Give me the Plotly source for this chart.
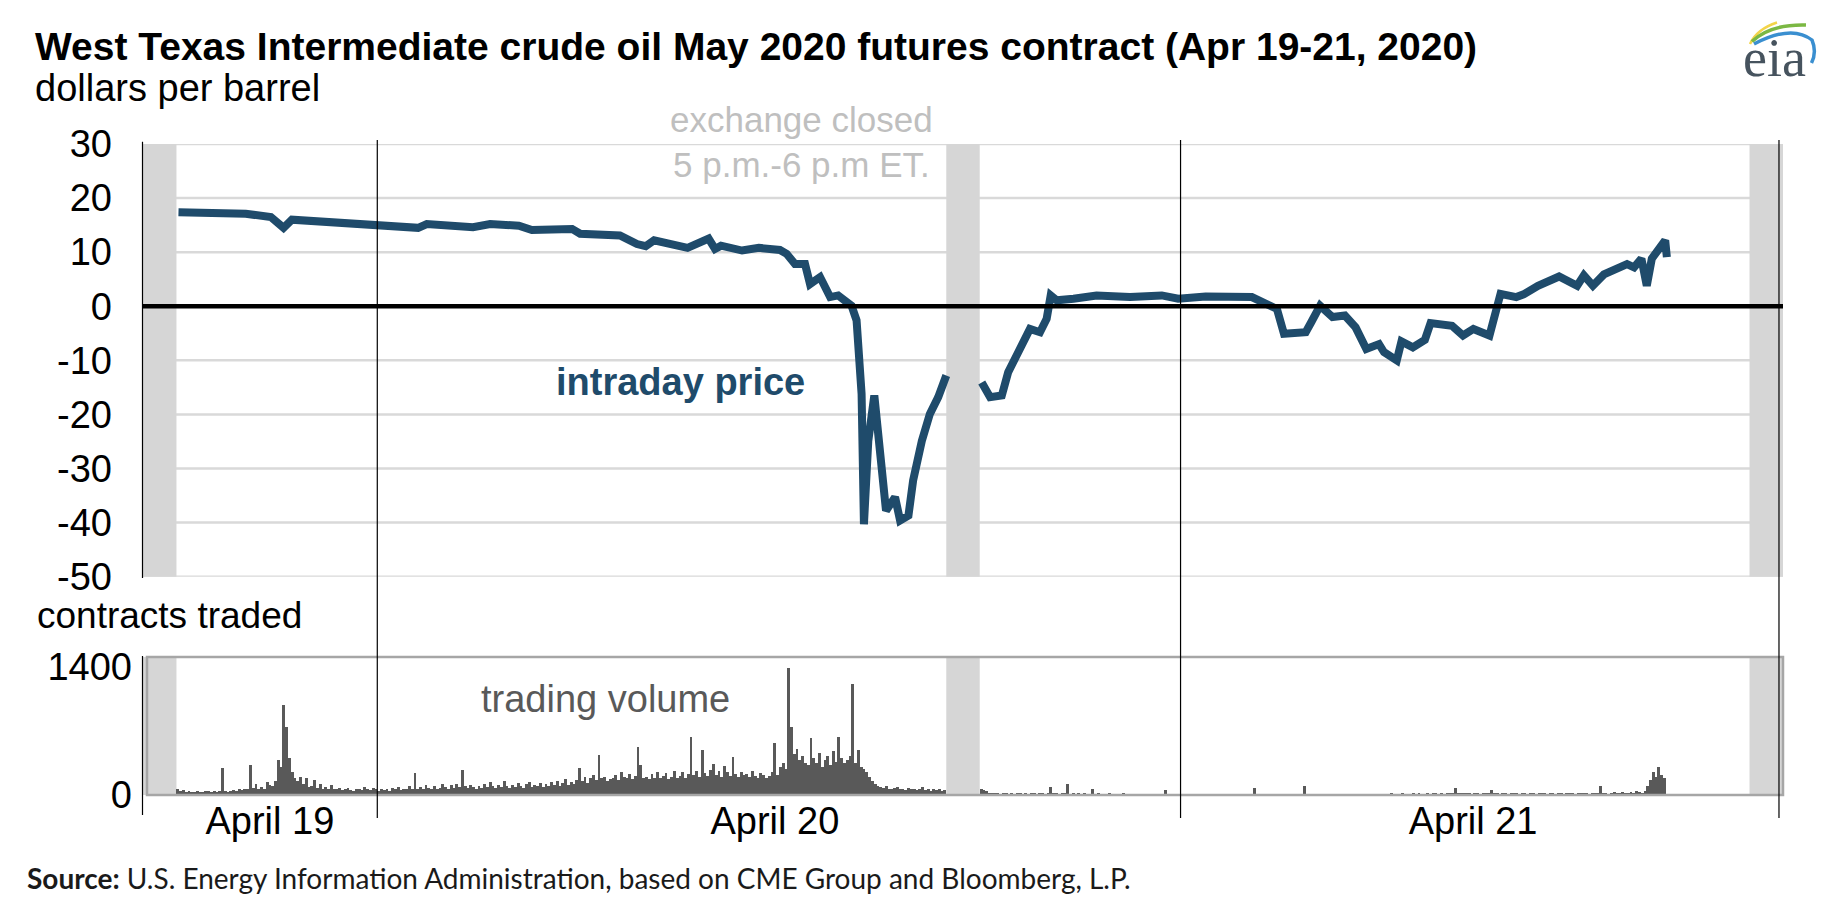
import plotly.graph_objects as go

# ---------------- data ----------------
# time axis: hours since 2020-04-19 00:00 ET
price_hours_s1 = [18.06, 19.06, 20.07, 20.82, 21.20, 21.45, 22.84, 23.93, 24.85, 25.22, 25.48, 26.86,
                  27.37, 28.23, 28.62, 29.82, 30.06, 31.25, 31.76, 32.02, 32.27, 33.27, 33.90, 34.09,
                  34.27, 34.90, 35.40, 36.03, 36.23, 36.48, 36.78, 36.93, 37.23, 37.53, 37.77, 38.17,
                  38.32, 38.37, 38.47, 38.54, 38.67, 38.85, 39.02, 39.20, 39.47, 39.62, 39.87, 40.01,
                  40.27, 40.51, 40.76, 41.0]
price_s1 = [17.4, 17.1, 17.1, 16.5, 14.5, 16.0, 15.4, 15.2, 14.9, 14.5, 15.2, 14.6,
            15.2, 14.9, 14.1, 14.3, 13.4, 13.1, 11.5, 11.1, 12.2, 10.8, 12.5, 10.6,
            11.2, 10.3, 10.8, 10.4, 9.7, 7.8, 7.8, 4.1, 5.4, 1.7, 2.0, 0.1,
            -2.6, -7.0, -16.2, -40.3, -24.9, -16.5, -27.3, -37.8, -35.3, -39.6, -38.7, -32.2,
            -24.9, -19.9, -16.8, -12.8]

price_hours_s2 = [42.06, 42.31, 42.66, 42.85, 43.15, 43.50, 43.80, 44.00, 44.12, 44.30, 44.80, 45.49,
                  46.49, 47.44, 47.93, 48.75, 50.13, 50.51, 50.88, 51.09, 51.74, 51.90, 52.17, 52.54,
                  52.91, 53.23, 53.55, 53.93, 54.08, 54.46, 54.60, 54.94, 55.30, 55.47, 56.11, 56.44,
                  56.75, 57.23, 57.39, 57.56, 58.03, 58.25, 58.68, 59.31, 59.85, 60.05, 60.32, 60.65,
                  61.34, 61.55, 61.77, 61.93, 62.08, 62.23, 62.48, 62.53]
price_s2 = [-14.1, -16.8, -16.5, -12.2, -8.5, -4.2, -4.8, -2.3, 2.0, 1.1, 1.4, 2.0,
            1.7, 2.0, 1.4, 1.8, 1.7, 0.7, -0.5, -5.1, -4.8, -3.0, 0.1, -2.0,
            -1.7, -3.9, -7.9, -7.0, -8.5, -10.0, -6.5, -7.6, -6.2, -3.1, -3.6, -5.4,
            -4.2, -5.4, -2.0, 2.3, 1.7, 2.2, 3.8, 5.5, 3.8, 5.7, 3.8, 5.9,
            7.8, 7.2, 8.8, 3.8, 8.8, 10.0, 12.2, 9.1]

# trading volume, 5-minute bins (contracts traded)
vol_start_s1 = 18.0   # 6 p.m. Apr 19
vol_s1 = [
    60, 45, 50, 35, 40, 30, 35, 40, 30, 35, 45, 40,
    35, 40, 30, 45, 290, 40, 35, 45, 50, 40, 60, 55,
    70, 60, 326, 80, 120, 60, 90, 70, 140, 110, 100, 150,
    380, 300, 978, 740, 400, 250, 180, 150, 200, 120, 180, 90,
    100, 160, 80, 120, 70, 90, 60, 110, 70, 60, 80, 50,
    60, 80, 50, 40, 70, 60, 50, 90, 60, 50, 80, 60,
    40, 60, 50, 70, 45, 80, 60, 90, 50, 70, 60, 100,
    60, 236, 70, 90, 60, 110, 80, 70, 100, 60, 80, 120,
    90, 70, 110, 80, 120, 90, 272, 100, 80, 110, 90, 70,
    100, 80, 120, 90, 140, 100, 80, 110, 90, 150, 100, 80,
    110, 90, 130, 100, 80, 120, 140, 90, 110, 100, 130, 90,
    120, 100, 140, 110, 150, 100, 130, 170, 110, 140, 120, 160,
    290, 150, 200, 130, 180, 220, 160, 435, 180, 200, 150, 170,
    180, 220, 160, 250, 200, 180, 230, 170, 210, 525, 326, 190,
    200, 170, 230, 190, 250, 180, 210, 240, 170, 200, 260, 190,
    210, 250, 190, 230, 630, 220, 260, 200, 490, 240, 210, 270,
    340, 220, 260, 200, 320, 250, 210, 417, 230, 200, 250, 220,
    230, 200, 260, 210, 190, 240, 220, 180, 210, 250, 560, 220,
    300, 350, 280, 1380, 740, 450, 500, 380, 420, 350, 330, 617,
    400, 350, 460, 300, 380, 420, 330, 480, 360, 630, 400, 350,
    380, 420, 1206, 350, 490, 300, 280, 250, 200, 150, 120, 100,
    90, 80, 100, 70, 60, 80, 90, 70, 60, 50, 80, 60,
    70, 50, 60, 90, 50, 60, 40, 70, 50, 60, 45, 55,
]
vol_start_s2 = 42.0   # 6 p.m. Apr 20
vol_s2 = [
    65, 50, 40, 25, 20, 15, 20, 10, 15, 20, 10, 15,
    10, 15, 20, 10, 15, 10, 20, 15, 10, 15, 20, 10,
    15, 90, 20, 15, 10, 20, 15, 120, 10, 15, 10, 20,
    10, 15, 10, 10, 65, 10, 15, 10, 5, 10, 15, 10,
    10, 5, 10, 15, 10, 5, 10, 10, 5, 10, 5, 10,
    5, 10, 5, 10, 5, 10, 50, 10, 5, 0, 5, 10,
    5, 0, 10, 5, 0, 5, 10, 0, 5, 10, 0, 5,
    5, 10, 0, 5, 0, 10, 5, 0, 10, 5, 0, 5,
    5, 0, 75, 5, 0, 10, 5, 0, 5, 10, 5, 0,
    5, 10, 0, 5, 10, 0, 5, 10, 98, 10, 5, 0,
    5, 10, 5, 0, 10, 5, 10, 5, 0, 5, 10, 5,
    10, 5, 0, 5, 10, 5, 10, 5, 10, 0, 5, 10,
    10, 5, 10, 15, 10, 5, 10, 15, 10, 5, 10, 15,
    10, 15, 10, 5, 15, 10, 15, 20, 10, 15, 10, 20,
    15, 20, 75, 15, 20, 15, 20, 15, 10, 20, 15, 10,
    15, 20, 15, 50, 15, 20, 10, 15, 20, 10, 15, 20,
    15, 10, 20, 15, 10, 20, 15, 10, 15, 20, 15, 10,
    15, 20, 10, 15, 20, 10, 15, 20, 15, 10, 20, 15,
    15, 20, 10, 15, 20, 15, 95, 20, 15, 10, 20, 30,
    20, 15, 30, 20, 25, 30, 20, 40, 30, 25, 40, 100,
    160, 250, 200, 300, 220, 180,
]
vol_step = 1 / 12  # 5 minutes in hours

closed_windows = [(17, 18), (41, 42), (65, 66)]   # exchange closed 5-6 p.m. ET
day_dividers = [24, 48, 65.88]
day_label_pos = [20.79, 35.88, 56.74]
day_labels = ["April 19", "April 20", "April 21"]
price_ticks = [-50, -40, -30, -20, -10, 0, 10, 20, 30]
price_tick_text = ["-50", "-40", "-30", "-20", "-10", "0", "10", "20", "30"]
volume_ticks = [0, 1400]

# ---------------- layout helpers (pixel -> paper) ----------------
W, H = 1832, 904
L, R, T, B = 143, 1783, 144, 795


def xp(px):
    return (px - L) / (R - L)


def yp(py):
    return (B - py) / (B - T)


FONT = "Liberation Sans, Arial, sans-serif"
LINE_COLOR = "#1f4b6b"
BAND = "#d6d6d6"
GRID = "#d9d9d9"

fig = go.Figure()

price_x = price_hours_s1 + [None] + price_hours_s2
price_y = price_s1 + [None] + price_s2
fig.add_trace(go.Scatter(x=price_x, y=price_y, mode="lines", connectgaps=False,
                         line=dict(color=LINE_COLOR, width=8), xaxis="x", yaxis="y",
                         hoverinfo="skip"))

vol_x = [vol_start_s1 + (i + 0.5) * vol_step for i in range(len(vol_s1))] + \
        [vol_start_s2 + (i + 0.5) * vol_step for i in range(len(vol_s2))]
vol_y = vol_s1 + vol_s2
fig.add_trace(go.Bar(x=vol_x, y=vol_y, width=vol_step, marker=dict(color="#595959", line=dict(width=0)),
                     xaxis="x2", yaxis="y2", hoverinfo="skip"))

up_bottom = yp(576.7)
low_top = yp(657)

fig.update_layout(
    width=W, height=H,
    margin=dict(l=L, r=W - R, t=T, b=H - B, pad=0),
    paper_bgcolor="white", plot_bgcolor="white",
    showlegend=False, bargap=0,
    font=dict(family=FONT, color="black"),
    xaxis=dict(domain=[0, 1], range=[17, 66], anchor="y", showgrid=False, zeroline=False,
               showticklabels=False, ticks="", showline=False),
    yaxis=dict(domain=[up_bottom, 1], range=[-50, 30], tickvals=price_ticks, ticktext=price_tick_text,
               showgrid=False, zeroline=False, ticks="", showline=False,
               tickfont=dict(size=38, color="black", family=FONT), ticklabelstandoff=30),
    xaxis2=dict(domain=[0, 1], range=[17, 66], anchor="y2", showgrid=False, zeroline=False,
                tickvals=day_label_pos, ticktext=day_labels, ticks="", showline=False,
                tickfont=dict(size=38, color="black", family=FONT), ticklabelstandoff=0),
    yaxis2=dict(domain=[0, low_top], range=[0, 1500], tickvals=volume_ticks, showgrid=False,
                zeroline=False, ticks="", showline=False,
                tickfont=dict(size=38, color="black", family=FONT), ticklabelstandoff=10),
)

shapes = []
# horizontal gridlines (drawn first, so the closed-exchange bands cover them)
for v in price_ticks:
    if v != 0:
        shapes.append(dict(type="line", xref="x", yref="y", x0=17, x1=66, y0=v, y1=v,
                           line=dict(color=GRID, width=2.5), layer="below"))
for a, b in closed_windows:
    shapes.append(dict(type="rect", xref="x", yref="y", x0=a, x1=b, y0=-50.3, y1=30.3,
                       fillcolor=BAND, line=dict(width=0), layer="below"))
    shapes.append(dict(type="rect", xref="x2", yref="y2", x0=a, x1=b, y0=0, y1=1500,
                       fillcolor=BAND, line=dict(width=0), layer="below"))
# zero line
shapes.append(dict(type="line", xref="x", yref="y", x0=17, x1=66.05, y0=0, y1=0,
                   line=dict(color="black", width=4.5), layer="above"))
# lower frame
shapes.append(dict(type="rect", xref="paper", yref="paper", x0=xp(147), x1=xp(1783),
                   y0=yp(795), y1=yp(657), line=dict(color="#a6a6a6", width=2.5), layer="above"))
# left axis lines
shapes.append(dict(type="line", xref="paper", yref="paper", x0=xp(142.5), x1=xp(142.5),
                   y0=yp(578), y1=yp(141.7), line=dict(color="black", width=1.2), layer="above"))
shapes.append(dict(type="line", xref="paper", yref="paper", x0=xp(142.5), x1=xp(142.5),
                   y0=yp(815), y1=yp(656), line=dict(color="black", width=1.2), layer="above"))
# day dividers
for d in day_dividers:
    shapes.append(dict(type="line", xref="x", yref="paper", x0=d, x1=d, y0=yp(818), y1=yp(140),
                       line=dict(color="black", width=1.2), layer="above"))


def path(points):
    s = "M {:.5f},{:.5f}".format(xp(points[0][0]), yp(points[0][1]))
    i = 1
    while i < len(points):
        (cx, cy), (ex, ey) = points[i], points[i + 1]
        s += " Q {:.5f},{:.5f} {:.5f},{:.5f}".format(xp(cx), yp(cy), xp(ex), yp(ey))
        i += 2
    return s


# eia logo arcs
shapes.append(dict(type="path", xref="paper", yref="paper",
                   path=path([(1750, 44), (1757, 29), (1777, 22.5)]),
                   line=dict(color="#f3d44a", width=2.5), layer="above"))
shapes.append(dict(type="path", xref="paper", yref="paper",
                   path=path([(1752, 41.5), (1770, 24), (1806, 25)]),
                   line=dict(color="#7bb843", width=3.5), layer="above"))
shapes.append(dict(type="path", xref="paper", yref="paper",
                   path=path([(1754, 44), (1792, 24), (1812, 40), (1817, 52), (1811.5, 63)]),
                   line=dict(color="#3a8fd0", width=3.5), layer="above"))
fig.update_layout(shapes=shapes)

ann = []


def text(t, x, y, size=38, color="black", xanchor="left", family=FONT):
    ann.append(dict(text=t, x=xp(x), y=yp(y), xref="paper", yref="paper", xanchor=xanchor,
                    yanchor="middle", showarrow=False, font=dict(size=size, color=color, family=family)))


text("<b>West Texas Intermediate crude oil May 2020 futures contract (Apr 19-21, 2020)</b>", 33, 47, size=39)
text("dollars per barrel", 33, 88)
text("exchange closed", 801, 120, size=35, color="#bfbfbf", xanchor="center")
text("5 p.m.-6 p.m ET.", 801, 165, size=35, color="#bfbfbf", xanchor="center")
text("<b>intraday price</b>", 680, 382, color=LINE_COLOR, xanchor="center")
text("contracts traded", 35, 615, size=37)
text("trading volume", 605, 699, color="#595959", xanchor="center")
text("<b>Source:</b> U.S. Energy Information Administration, based on CME Group and Bloomberg, L.P.",
     25, 878, size=28, color="#1a1a1a", family="Lato, sans-serif")
text("eia", 1774, 58, size=54, color="#46535e", xanchor="center", family="Liberation Serif, serif")
fig.update_layout(annotations=ann)

fig.write_html("out.html")
